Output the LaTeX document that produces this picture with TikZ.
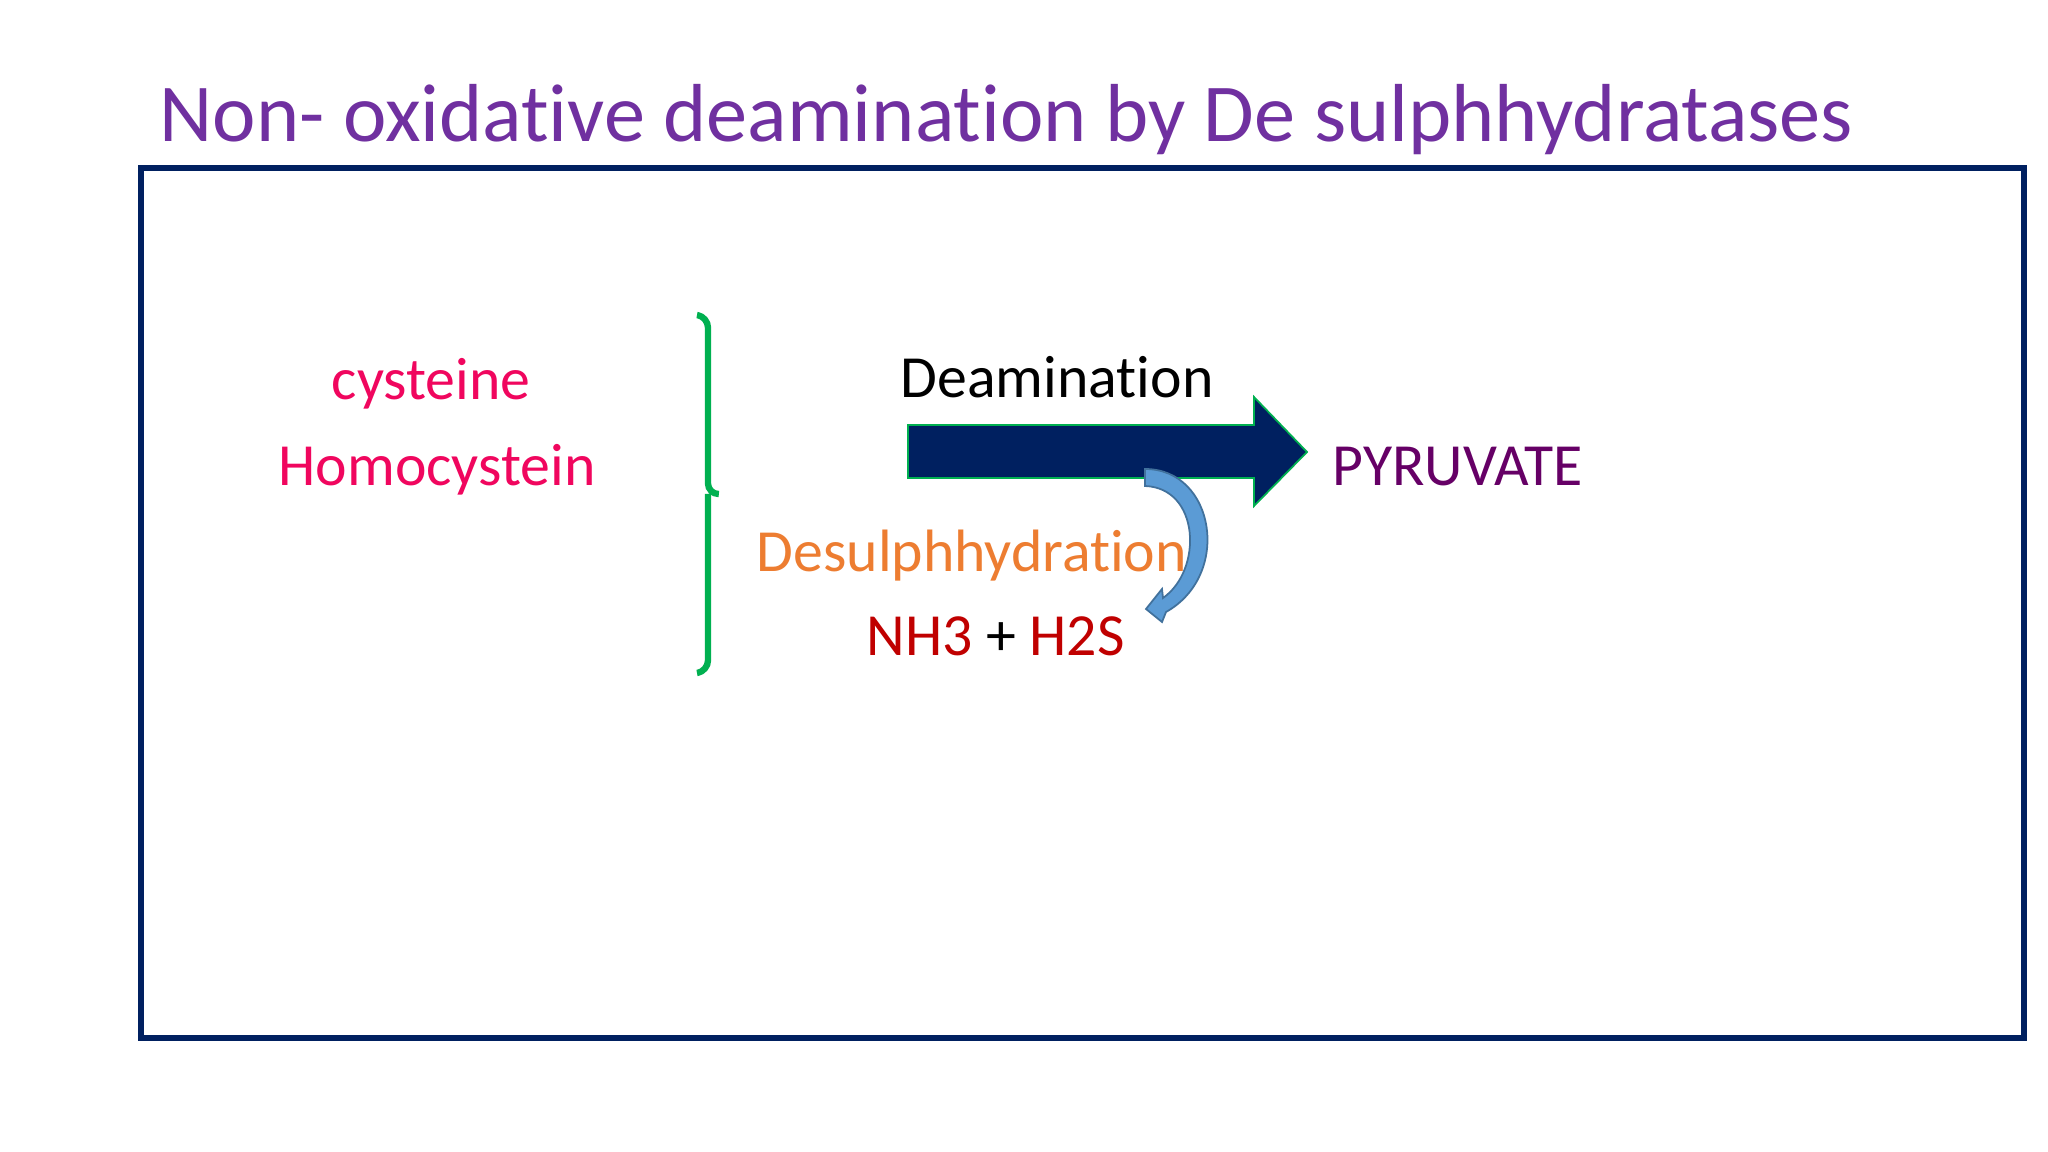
\documentclass[tikz,border=0pt]{standalone}
\usepackage{fontspec}
\setmainfont{Carlito}[Ligatures={NoCommon}]
\definecolor{ttl}{HTML}{7030A0}
\definecolor{pinkc}{HTML}{F0065E}
\definecolor{grn}{HTML}{00B050}
\definecolor{navy}{HTML}{002060}
\definecolor{pyr}{HTML}{660066}
\definecolor{orng}{HTML}{ED7D31}
\definecolor{dred}{HTML}{C00000}
\definecolor{lblue}{HTML}{5B9BD5}
\definecolor{dblue}{HTML}{41719C}
\begin{document}
\begin{tikzpicture}[x=0.01cm,y=-0.01cm,
  txt/.style={anchor=base west,inner sep=0pt,font=\fontsize{17}{20}\selectfont}]
\useasboundingbox (0,0) rectangle (2048,1152);
\fill[white] (0,0) rectangle (2048,1152);
\node[anchor=base west,inner sep=0pt,text=ttl,font=\fontsize{23.4}{28}\selectfont] (title) at (159,142) {Non- oxidative deamination by De sulphhydratases};
\draw[navy,line width=1.6pt] (141,168) rectangle (2024,1038);
\node[txt,anchor=base,text=pinkc] (cys) at (431,400) {cysteine};
\node[txt,anchor=base,text=pinkc] (hom) at (437,486) {Homocystein};
\draw[grn,line width=1.8pt,rounded corners=3pt] (697,315) -- (708,317) -- (708,494) -- (718,494) (708,494) -- (708,671) -- (697,673);
\node[txt] (deam) at (900,398) {Deamination};
\draw[grn,line width=0.5pt,fill=navy] (908,425) -- (1254,425) -- (1254,397) -- (1307,452) -- (1254,506) -- (1254,478) -- (908,478) -- cycle;
\node[txt,text=pyr] (pyr) at (1332,486) {PYRUVATE};
\node[txt,text=orng] (desul) at (756,571) {Desulphhydration};
\node[txt] (prod) at (866,656) {\textcolor{dred}{NH3} + \textcolor{dred}{H2S}};
\draw[dblue,line width=0.5pt,fill=lblue] (1145,469) .. controls (1215,469) and (1232,575) .. (1166,612) -- (1162,622) -- (1146,609) -- (1162,589) -- (1163,598) .. controls (1203,570) and (1200,488) .. (1145,486) -- cycle;
\end{tikzpicture}
\end{document}
